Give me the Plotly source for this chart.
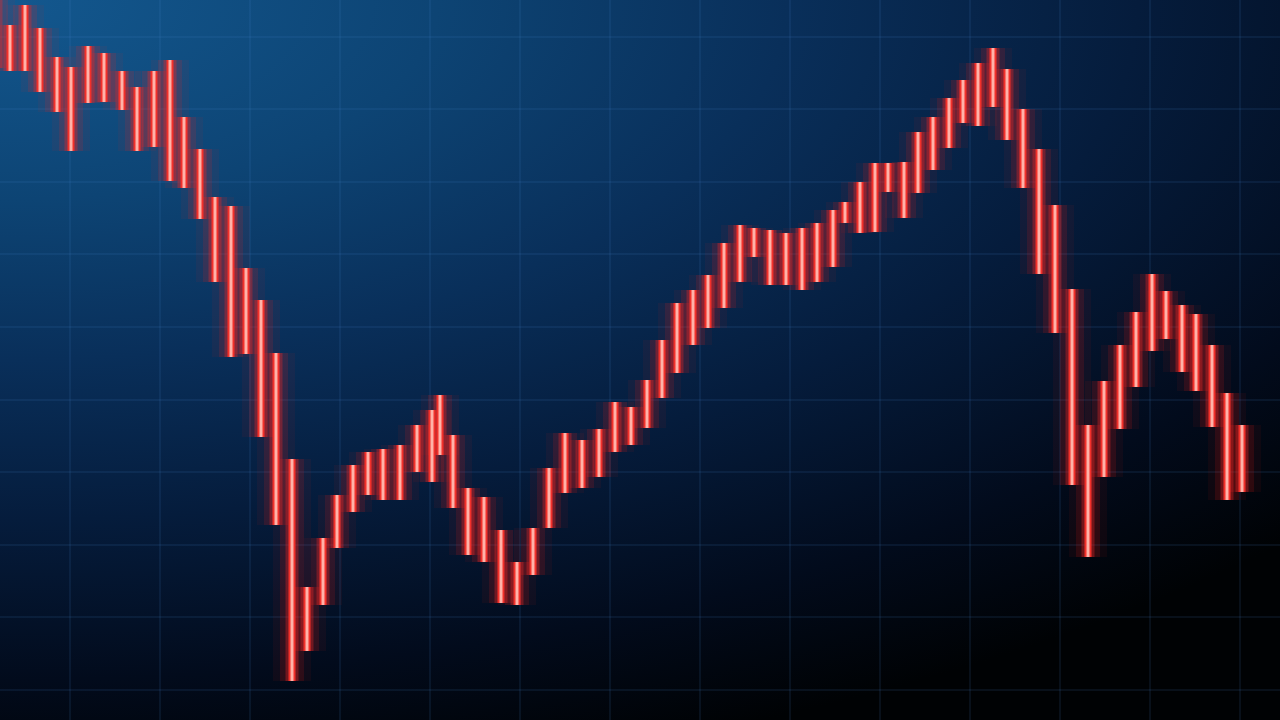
import base64
import plotly.graph_objects as go

# ---- data (price scale: 0 = bottom, 720 = top) ----
bar_x = [-4, 10, 25, 40, 57, 71, 88, 104, 122, 137, 154, 170, 184, 200, 215, 231, 246, 261, 276, 292,
         307, 323, 337, 353, 368, 383, 400, 417, 432, 440, 453, 468, 484, 501, 517, 533, 549, 565, 582, 599,
         615, 631, 647, 662, 677, 693, 708, 724, 740, 754, 770, 786, 802, 817, 833, 845, 860, 875, 888, 904,
         918, 933, 949, 963, 978, 993, 1007, 1023, 1039, 1055, 1072, 1088, 1104, 1120, 1136, 1152, 1166, 1182,
         1196, 1212, 1227, 1242]
bar_high = [720, 695, 715, 692, 663, 653, 674, 667, 649, 633, 649, 660, 603, 571, 523, 514, 452, 420, 367, 261,
            133, 182, 225, 255, 268, 271, 275, 295, 310, 325, 285, 232, 223, 190, 158, 192, 252, 287, 280, 291,
            318, 313, 340, 380, 417, 430, 445, 477, 495, 492, 490, 487, 492, 497, 510, 518, 538, 557, 557, 558,
            588, 603, 622, 640, 657, 672, 651, 611, 571, 515, 431, 295, 339, 375, 408, 446, 429, 415,
            406, 375, 327, 295]
bar_low = [652, 649, 649, 628, 608, 569, 617, 618, 610, 569, 573, 539, 532, 501, 438, 363, 366, 283, 195, 39,
           69, 115, 172, 208, 225, 220, 220, 248, 238, 265, 212, 165, 158, 117, 115, 145, 192, 227, 232, 243,
           268, 275, 292, 322, 347, 375, 392, 412, 438, 463, 435, 435, 430, 438, 453, 497, 487, 488, 528, 502,
           527, 550, 572, 597, 594, 613, 580, 532, 446, 387, 235, 163, 243, 291, 333, 369, 381, 348,
           329, 293, 220, 228]

# ---- background gradient (style only) ----
svg = (
    '<svg xmlns="http://www.w3.org/2000/svg" width="1280" height="720" viewBox="0 0 1280 720" '
    'preserveAspectRatio="none"><defs>'
    '<radialGradient id="g" gradientUnits="userSpaceOnUse" cx="0" cy="0" r="1" '
    'gradientTransform="scale(1750 800)">'
    '<stop offset="0" stop-color="#13588f"/>'
    '<stop offset="0.25" stop-color="#0d4474"/>'
    '<stop offset="0.45" stop-color="#092f5a"/>'
    '<stop offset="0.65" stop-color="#051c3c"/>'
    '<stop offset="0.85" stop-color="#020b1c"/>'
    '<stop offset="1.05" stop-color="#000204"/>'
    '</radialGradient></defs>'
    '<rect width="1280" height="720" fill="url(#g)"/></svg>'
)
bg_src = "data:image/svg+xml;base64," + base64.b64encode(svg.encode()).decode()

xs, ys = [], []
for x, lo, hi in zip(bar_x, bar_low, bar_high):
    xs += [x, x, None]
    ys += [lo, hi, None]

layers = [
    (38, "rgba(255,30,25,0.06)"),
    (24, "rgba(255,30,25,0.13)"),
    (13, "rgba(235,40,40,0.35)"),
    (7, "#f2302a"),
    (3, "#ffb2a8"),
]

fig = go.Figure()
for w, c in layers:
    fig.add_trace(go.Scatter(x=xs, y=ys, mode="lines", line=dict(color=c, width=w),
                             hoverinfo="skip", showlegend=False))

grid_col = "rgba(70,135,205,0.11)"
fig.update_layout(
    width=1280, height=720,
    margin=dict(l=0, r=0, t=0, b=0),
    paper_bgcolor="#000204",
    plot_bgcolor="rgba(0,0,0,0)",
    images=[dict(source=bg_src, xref="paper", yref="paper", x=0, y=1, sizex=1, sizey=1,
                 sizing="stretch", layer="below", xanchor="left", yanchor="top")],
    xaxis=dict(range=[0, 1280], showgrid=True, gridcolor=grid_col, gridwidth=2,
               tick0=70, dtick=90, showticklabels=False, zeroline=False, showline=False,
               ticks="", fixedrange=True),
    yaxis=dict(range=[0, 720], showgrid=True, gridcolor=grid_col, gridwidth=2,
               tick0=30, dtick=72.6, showticklabels=False, zeroline=False, showline=False,
               ticks="", fixedrange=True),
)

fig.write_html(
    "out.html",
    config={"displayModeBar": False},
    post_script="document.body.style.margin='0';document.body.style.background='#000204';",
)
